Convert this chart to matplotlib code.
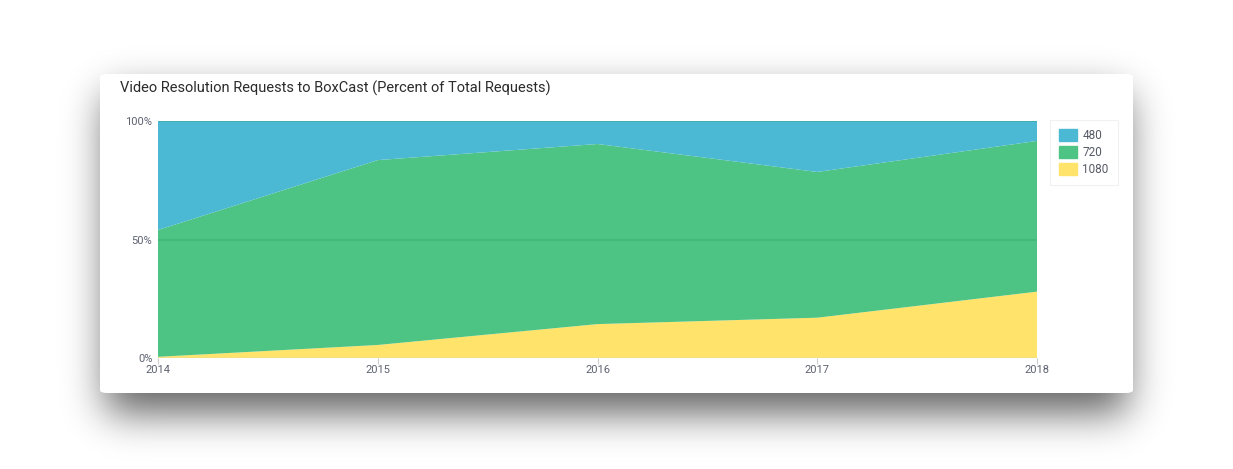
import matplotlib
matplotlib.use("Agg")
import numpy as np
import matplotlib.pyplot as plt
from matplotlib.patches import FancyBboxPatch, Patch

years = [2014, 2015, 2016, 2017, 2018]
res_1080 = [0.5, 5.5, 14.3, 17.0, 28.0]
res_720 = [53.5, 78.0, 76.0, 61.5, 63.6]
res_480 = [46.0, 16.5, 9.7, 21.5, 8.4]
series_labels = ["480", "720", "1080"]
colors = {"480": "#4bb8d4", "720": "#4dc484", "1080": "#ffe36b"}
y_ticks = [0, 50, 100]
y_tick_labels = ["0%", "50%", "100%"]
title = "Video Resolution Requests to BoxCast (Percent of Total Requests)"

W, H = 1233, 469
fig = plt.figure(figsize=(W / 100, H / 100), dpi=100)
fig.patch.set_facecolor("white")

# card geometry (pixels, from top)
cx0, cy0, cx1, cy1 = 100, 74, 1133, 393

# soft shadow via blurred mask
mask = np.zeros((H, W))
off = 20
mask[cy0 + off:cy1 + off, cx0 + 6:cx1 - 6] = 1.0
sigma = 20
r = np.arange(-3 * sigma, 3 * sigma + 1)
k = np.exp(-r ** 2 / (2 * sigma ** 2))
k /= k.sum()
mask = np.apply_along_axis(lambda v: np.convolve(v, k, mode="same"), 1, mask)
mask = np.apply_along_axis(lambda v: np.convolve(v, k, mode="same"), 0, mask)
rgba = np.zeros((H, W, 4))
rgba[..., 3] = mask * 0.62
fig.figimage(rgba, xo=0, yo=0, origin="upper", zorder=0)

card = FancyBboxPatch((cx0 / W, 1 - cy1 / H), (cx1 - cx0) / W, (cy1 - cy0) / H,
                      boxstyle="round,pad=0,rounding_size=0.006",
                      transform=fig.transFigure, facecolor="white",
                      edgecolor="none", zorder=1)
fig.patches.append(card)

fig.text(120 / W, 1 - 88 / H, title, fontsize=10.5, color="#2b2b2b",
         family="Roboto", va="center", ha="left", zorder=5)

ax = fig.add_axes([158 / W, 1 - 358 / H, (1037 - 158) / W, (358 - 121) / H])
ax.set_facecolor("none")
ax.set_zorder(3)
ax.stackplot(years, res_1080, res_720, res_480,
             colors=[colors["1080"], colors["720"], colors["480"]],
             linewidth=0, zorder=2)
ax.set_xlim(years[0], years[-1])
ax.set_ylim(0, 100)
for yv in [50, 100]:
    ax.axhline(yv, color="#2f9e60", alpha=0.35, linewidth=1.2, zorder=3)
ax.axhline(0, color="#cccccc", linewidth=1, zorder=3)
ax.set_xticks(years)
ax.set_xticklabels([str(y) for y in years])
ax.set_yticks(y_ticks)
ax.set_yticklabels(y_tick_labels)
for s in ax.spines.values():
    s.set_visible(False)
ax.tick_params(axis="x", length=4, color="#cccccc", labelsize=8, labelcolor="#5d6270", pad=1)
ax.tick_params(axis="y", length=0, labelsize=8, labelcolor="#5d6270", pad=4)
for lab in ax.get_xticklabels() + ax.get_yticklabels():
    lab.set_family("Roboto")

handles = [Patch(facecolor=colors[k], edgecolor=colors[k], label=k) for k in series_labels]
leg = fig.legend(handles=handles, loc="upper left",
                 bbox_to_anchor=(1050 / W, 1 - 120 / H), frameon=True,
                 borderaxespad=0,
                 handlelength=1.5, handleheight=1.1,
                 handletextpad=0.5, labelspacing=0.35, borderpad=0.75,
                 fancybox=False, prop={"family": "Roboto", "size": 8.5})
leg.get_frame().set_edgecolor("#eeeeee")
leg.get_frame().set_linewidth(0.8)
for t in leg.get_texts():
    t.set_color("#555a66")
leg.set_zorder(6)

fig.savefig("out.png", dpi=100, facecolor="white")
